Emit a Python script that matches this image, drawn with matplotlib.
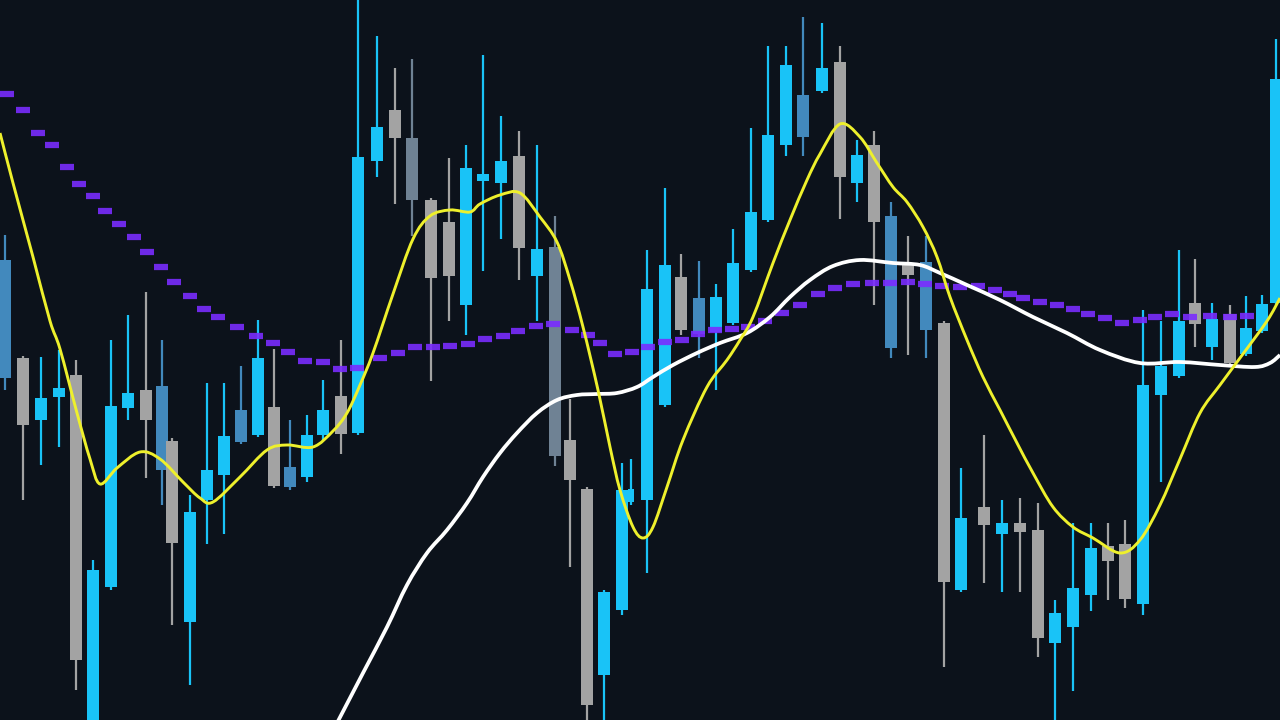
import matplotlib
matplotlib.use('Agg')
import matplotlib.pyplot as plt
from matplotlib.path import Path
from matplotlib.patches import PathPatch
import numpy as np

# bar position (time) and OHLC prices
t = [5, 23, 41, 59, 76, 93, 111, 128, 146, 162, 172, 190, 207, 224, 241, 258, 274, 290, 307, 323,
     341, 358, 377, 395, 412, 431, 449, 466, 483, 501, 519, 537, 555, 570, 587, 604, 622, 631, 647, 665,
     681, 699, 716, 733, 751, 768, 786, 803, 822, 840, 857, 874, 891, 908, 926, 944, 961, 984, 1002, 1020,
     1038, 1055, 1073, 1091, 1108, 1125, 1143, 1161, 1179, 1195, 1212, 1230, 1246, 1262, 1276]
o = [342, 362, 300, 323, 345, 0, 133, 312, 330, 250, 279, 98, 220, 245, 278, 285, 313, 233, 243, 285,
     324, 287, 559, 610, 582, 520, 498, 415, 539, 537, 564, 444, 473, 280, 231, 45, 110, 218, 220, 315,
     443, 386, 388, 397, 450, 500, 575, 583, 629, 658, 537, 575, 372, 455, 390, 397, 130, 213, 186, 197,
     190, 77, 93, 125, 174, 176, 116, 325, 344, 417, 373, 406, 366, 389, 417]
h = [485, 364, 363, 370, 360, 160, 380, 405, 428, 380, 282, 225, 337, 337, 354, 400, 371, 300, 305, 340,
     380, 725, 684, 652, 661, 522, 562, 575, 665, 604, 589, 575, 504, 321, 233, 130, 257, 261, 470, 532,
     466, 459, 436, 491, 592, 674, 674, 703, 697, 674, 580, 589, 518, 484, 484, 399, 252, 285, 220, 222,
     217, 120, 197, 197, 197, 200, 410, 399, 470, 461, 417, 415, 424, 425, 681]
l = [330, 220, 255, 273, 30, -10, 130, 300, 242, 215, 95, 35, 176, 186, 276, 283, 232, 230, 238, 280,
     266, 285, 543, 516, 484, 339, 399, 385, 449, 481, 440, 399, 254, 153, -10, -10, 105, 215, 147, 313,
     385, 362, 330, 395, 448, 498, 564, 564, 627, 501, 518, 415, 362, 365, 362, 53, 128, 137, 128, 128,
     63, -10, 29, 109, 120, 112, 105, 238, 342, 373, 360, 355, 364, 387, 415]
c = [460, 295, 322, 332, 60, 150, 314, 327, 300, 334, 177, 208, 250, 284, 310, 362, 234, 253, 285, 310,
     286, 563, 593, 582, 520, 442, 444, 552, 546, 559, 472, 471, 264, 240, 15, 128, 230, 231, 431, 455,
     390, 422, 423, 457, 508, 585, 655, 625, 652, 543, 565, 498, 504, 445, 458, 138, 202, 195, 197, 188,
     82, 107, 132, 172, 159, 121, 335, 354, 399, 396, 401, 357, 392, 416, 641]

# candles that appear faded in the picture
faded = [0, 9, 14, 17, 41, 47, 52, 54, 24, 32]

# moving averages
fast_x = [0, 13, 33, 50, 60, 77, 90, 100, 117, 140, 160, 183, 200, 213, 240, 267, 287, 313, 333, 347,
          360, 373, 393, 413, 430, 450, 470, 480, 500, 520, 540, 557, 570, 583, 598, 610, 620, 633, 643, 653,
          667, 683, 707, 727, 740, 753, 773, 790, 807, 820, 840, 860, 877, 893, 907, 923, 937, 950, 967, 983,
          1000, 1017, 1033, 1053, 1073, 1093, 1120, 1140, 1160, 1180, 1200, 1220, 1240, 1267, 1280]
fast_y = [587, 537, 463, 399, 371, 307, 261, 236, 252, 268, 261, 238, 222, 218, 243, 270, 275, 273, 289, 307,
          335, 367, 426, 481, 504, 510, 508, 516, 525, 527, 503, 478, 440, 393, 330, 273, 230, 193, 182, 193,
          233, 280, 333, 360, 380, 403, 457, 500, 540, 566, 596, 583, 557, 533, 518, 493, 463, 423, 380, 343,
          310, 277, 247, 213, 193, 182, 167, 180, 215, 261, 307, 335, 362, 399, 422]

slow_x = [336, 363, 387, 407, 427, 447, 467, 483, 500, 517, 537, 557, 577, 597, 617, 637, 653, 673, 697, 720,
          747, 770, 790, 810, 833, 860, 893, 920, 940, 967, 1000, 1033, 1067, 1100, 1140, 1180, 1220, 1255,
          1270, 1280]
slow_y = [-5, 47, 93, 135, 167, 190, 217, 243, 267, 287, 307, 320, 325, 326, 327, 333, 343, 355, 367, 377,
          387, 403, 423, 440, 454, 460, 457, 455, 447, 435, 420, 403, 387, 370, 357, 358, 355, 353,
          357, 365]

trend_x = [7, 23, 38, 52, 67, 79, 93, 105, 119, 134, 147, 161, 174, 190, 204, 218, 237, 256, 273, 288,
           305, 323, 340, 357, 380, 398, 415, 433, 450, 468, 485, 503, 518, 536, 553, 572, 588, 600, 615, 632,
           648, 665, 682, 698, 715, 732, 748, 765, 782, 800, 818, 835, 853, 872, 890, 908, 925, 942, 960, 978,
           995, 1010, 1023, 1040, 1057, 1073, 1088, 1105, 1122, 1140, 1155, 1172, 1190, 1210, 1230, 1247]
trend_y = [626, 610, 587, 575, 553, 536, 524, 509, 496, 483, 468, 453, 438, 424, 411, 403, 393, 384, 377, 368,
           359, 358, 351, 352, 362, 367, 373, 373, 374, 376, 381, 384, 389, 394, 396, 390, 385, 377, 366, 368,
           373, 378, 380, 386, 390, 391, 393, 399, 407, 415, 426, 432, 436, 437, 437, 438, 436, 434, 433, 434,
           430, 426, 422, 418, 415, 411, 406, 402, 397, 400, 403, 406, 403, 404, 403, 404]


def smooth_path(xs, ys):
    # bezier curve through the points (catmull-rom style control points)
    p = np.column_stack([xs, ys]).astype(float)
    verts = [p[0]]
    codes = [Path.MOVETO]
    for i in range(len(p) - 1):
        p0 = p[i - 1] if i > 0 else p[i]
        p3 = p[i + 2] if i + 2 < len(p) else p[i + 1]
        c1 = p[i] + (p[i + 1] - p0) / 6
        c2 = p[i + 1] - (p3 - p[i]) / 6
        verts += [c1, c2, p[i + 1]]
        codes += [Path.CURVE4] * 3
    return Path(verts, codes)


def main():
    BG = '#0c121b'
    UP = '#19c3f7'
    DOWN = '#a3a3a3'
    FADE_UP = '#4289bd'
    FADE_DOWN = '#6f8294'

    fig = plt.figure(figsize=(12.8, 7.2), dpi=100, facecolor=BG)
    ax = fig.add_axes([0, 0, 1, 1])
    ax.set_facecolor(BG)

    for i in range(len(t)):
        up = c[i] >= o[i]
        if i in faded:
            col = FADE_UP if up else FADE_DOWN
        else:
            col = UP if up else DOWN
        ax.vlines(t[i], l[i], h[i], color=col, linewidth=1.6, zorder=2)
        lo, hi = min(o[i], c[i]), max(o[i], c[i])
        w = 6 if i == 37 else 12
        ax.bar(t[i], hi - lo, bottom=lo, width=w, color=col, linewidth=0, zorder=3)

    ax.plot(trend_x, trend_y, linestyle='none', marker='_', markersize=10.5,
            markeredgewidth=4.5, color='#7a2cff', alpha=0.9, zorder=4)
    ax.add_patch(PathPatch(smooth_path(slow_x, slow_y), facecolor='none',
                           edgecolor='white', linewidth=2.7, zorder=5))
    ax.add_patch(PathPatch(smooth_path(fast_x, fast_y), facecolor='none',
                           edgecolor='#eef02c', linewidth=2.1, zorder=6))

    ax.set_xlim(0, 1280)
    ax.set_ylim(0, 720)
    ax.axis('off')

    fig.savefig('out.png', dpi=100, facecolor=BG)


if __name__ == '__main__':
    main()
